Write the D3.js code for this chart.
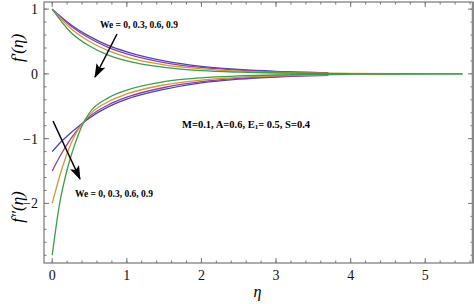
<!DOCTYPE html>
<html>
<head>
<meta charset="utf-8">
<script src="https://cdn.jsdelivr.net/npm/d3@7"></script>
<style>
  body { margin: 0; background: #fff; }
  svg { display: block; font-family: "Liberation Serif", "DejaVu Serif", serif; }
</style>
</head>
<body>
<div id="chart"></div>
<script>
// values (eta, value)
const weValues = ["0", "0.3", "0.6", "0.9"];
const colors = ["#4646b8", "#9a3c9c", "#cf9a3c", "#3a9e48"];

const fp_We0 = [[0, 1], [0.25, 0.76], [0.5, 0.58], [0.75, 0.44], [1, 0.34], [1.5, 0.2], [2, 0.115], [2.5, 0.068], [3, 0.04], [3.7, 0.02]];
const fp_We03 = [[0, 1], [0.25, 0.74], [0.5, 0.55], [0.75, 0.41], [1, 0.31], [1.5, 0.175], [2, 0.1], [2.5, 0.058], [3, 0.034], [3.7, 0.016]];
const fp_We06 = [[0, 1], [0.25, 0.7], [0.5, 0.5], [0.75, 0.36], [1, 0.26], [1.5, 0.14], [2, 0.078], [2.5, 0.042], [3, 0.023], [3.5, 0.013], [4, 0.007], [4.6, 0.003]];
const fp_We09 = [[0, 1], [0.25, 0.64], [0.5, 0.43], [0.75, 0.29], [1, 0.2], [1.5, 0.1], [2, 0.05], [2.5, 0.027], [3, 0.014], [3.5, 0.008], [4, 0.004], [4.6, 0.002], [5.5, 0.001]];

const fpp_We0 = [[0, -1.2], [0.1, -1.07], [0.25, -0.91], [0.5, -0.68], [0.75, -0.51], [1, -0.39], [1.5, -0.24], [2, -0.14], [2.5, -0.082], [3, -0.048], [3.7, -0.024]];
const fpp_We03 = [[0, -1.5], [0.1, -1.28], [0.25, -1.0], [0.5, -0.66], [0.75, -0.48], [1, -0.36], [1.5, -0.21], [2, -0.12], [2.5, -0.07], [3, -0.04], [3.7, -0.019]];
const fpp_We06 = [[0, -2.0], [0.1, -1.58], [0.25, -1.08], [0.5, -0.63], [0.75, -0.43], [1, -0.31], [1.5, -0.17], [2, -0.095], [2.5, -0.053], [3, -0.03], [3.5, -0.017], [4, -0.009], [4.6, -0.004]];
const fpp_We09 = [[0, -2.8], [0.1, -2.0], [0.2, -1.48], [0.3, -1.1], [0.4, -0.8], [0.5, -0.6], [0.75, -0.37], [1, -0.25], [1.5, -0.12], [2, -0.06], [2.5, -0.032], [3, -0.017], [3.5, -0.009], [4, -0.005], [4.6, -0.002], [5.5, -0.001]];

const fpSeries = [fp_We0, fp_We03, fp_We06, fp_We09];
const fppSeries = [fpp_We0, fpp_We03, fpp_We06, fpp_We09];

const xTicks = [0, 1, 2, 3, 4, 5];
const yTicks = [1, 0, -1, -2];

const W = 474, H = 304;
const margin = { top: 2, right: 1, bottom: 41, left: 44 };
const width = W - margin.left - margin.right;
const height = H - margin.top - margin.bottom;

const svg = d3.select("#chart").append("svg").attr("width", W).attr("height", H);
const g = svg.append("g").attr("transform", `translate(${margin.left},${margin.top})`);

const x = d3.scaleLinear().domain([-0.11, 5.64]).range([0, width]);
const y = d3.scaleLinear().domain([-2.92, 1.11]).range([height, 0]);

// curves
const line = d3.line().x((d) => x(d[0])).y((d) => y(d[1])).curve(d3.curveMonotoneX);
const curvesG = g.append("g");
[fpSeries, fppSeries].forEach((set) => {
  set.forEach((s, i) => {
    curvesG.append("path")
      .attr("d", line(s))
      .attr("fill", "none")
      .attr("stroke", colors[i])
      .attr("stroke-width", 1.3);
  });
});

// frame with ticks on all sides
const frameColor = "#777";
const minorX = d3.range(0, 5.61, 0.2);
const minorY = d3.range(-2.8, 1.01, 0.2);

function tickLines(sel, vals, len, axis, side) {
  vals.forEach((v) => {
    if (axis === "x") {
      const px = x(v);
      const y0 = side === "bottom" ? height : 0;
      const dir = side === "bottom" ? -1 : 1;
      sel.append("line").attr("x1", px).attr("x2", px).attr("y1", y0).attr("y2", y0 + dir * len);
    } else {
      const py = y(v);
      const x0 = side === "left" ? 0 : width;
      const dir = side === "left" ? 1 : -1;
      sel.append("line").attr("x1", x0).attr("x2", x0 + dir * len).attr("y1", py).attr("y2", py);
    }
  });
}

const ticksG = g.append("g").attr("stroke", frameColor).attr("stroke-width", 1);
["bottom", "top"].forEach((s) => {
  tickLines(ticksG, minorX, 2.5, "x", s);
  tickLines(ticksG, xTicks, 5, "x", s);
});
["left", "right"].forEach((s) => {
  tickLines(ticksG, minorY, 2.5, "y", s);
  tickLines(ticksG, yTicks, 5, "y", s);
});

g.append("rect")
  .attr("x", 0).attr("y", 0).attr("width", width).attr("height", height)
  .attr("fill", "none").attr("stroke", frameColor).attr("stroke-width", 1.2);
g.append("line")
  .attr("x1", width).attr("x2", width).attr("y1", 0).attr("y2", height)
  .attr("stroke", "#888").attr("stroke-width", 2.5);

// tick labels
g.selectAll(".xl").data(xTicks).join("text")
  .attr("x", (d) => x(d)).attr("y", height + 17)
  .attr("text-anchor", "middle").attr("font-size", 14).attr("fill", "#111")
  .text((d) => d);
g.selectAll(".yl").data(yTicks).join("text")
  .attr("x", -6).attr("y", (d) => y(d) + 5)
  .attr("text-anchor", "end").attr("font-size", 14).attr("fill", "#111")
  .text((d) => (d < 0 ? "\u2212" + Math.abs(d) : d));

// axis titles
svg.append("text")
  .attr("x", margin.left + x(2.75)).attr("y", 297)
  .attr("text-anchor", "middle").attr("font-size", 16).attr("font-style", "italic")
  .text("\u03b7");
svg.append("text")
  .attr("transform", `translate(23,48) rotate(-90)`)
  .attr("text-anchor", "middle").attr("font-size", 17).attr("font-style", "italic")
  .text("f\u2032(\u03b7)");
svg.append("text")
  .attr("transform", `translate(23,207) rotate(-90)`)
  .attr("text-anchor", "middle").attr("font-size", 17).attr("font-style", "italic")
  .text("f\u2033(\u03b7)");

// annotations
const weLabel = "We = " + weValues.join(", ");
svg.append("text")
  .attr("x", 100).attr("y", 28)
  .attr("font-size", 9.5).attr("font-weight", "bold")
  .text(weLabel);
svg.append("text")
  .attr("x", 75).attr("y", 197)
  .attr("font-size", 9.5).attr("font-weight", "bold")
  .text(weLabel);

const params = svg.append("text")
  .attr("x", 182).attr("y", 128)
  .attr("font-size", 10.5).attr("font-weight", "bold");
params.append("tspan").text("M=0.1, A=0.6, E");
params.append("tspan").attr("font-size", 7).attr("dy", 1).text("1");
params.append("tspan").attr("dy", -1).text("= 0.5, S=0.4");

// arrows
svg.append("defs").append("marker")
  .attr("id", "ah").attr("viewBox", "0 0 14 10")
  .attr("refX", 13).attr("refY", 5)
  .attr("markerWidth", 14).attr("markerHeight", 10)
  .attr("markerUnits", "userSpaceOnUse")
  .attr("orient", "auto")
  .append("path").attr("d", "M0,0 L14,5 L0,10 L3,5 Z").attr("fill", "#000");

svg.append("line")
  .attr("x1", 117).attr("y1", 34).attr("x2", 95).attr("y2", 77)
  .attr("stroke", "#000").attr("stroke-width", 1.5).attr("marker-end", "url(#ah)");
svg.append("line")
  .attr("x1", 53).attr("y1", 121).attr("x2", 80).attr("y2", 179)
  .attr("stroke", "#000").attr("stroke-width", 1.5).attr("marker-end", "url(#ah)");
</script>
</body>
</html>
